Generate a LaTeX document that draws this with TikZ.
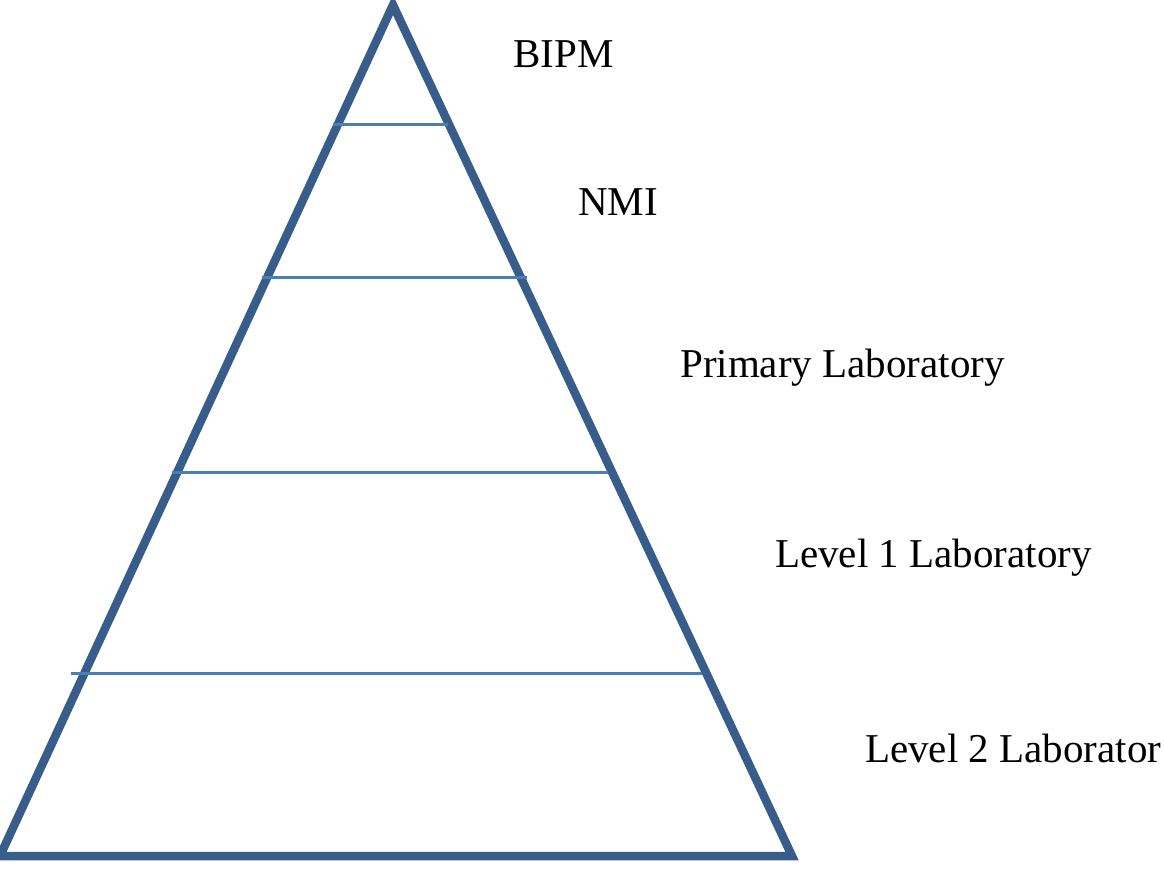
\documentclass[tikz,border=0pt]{standalone}
\usepackage{fontspec}
\setmainfont{Liberation Serif}
\definecolor{edgeblue}{HTML}{385D8A}
\definecolor{tierblue}{HTML}{4A7EBB}
\begin{document}
\begin{tikzpicture}[x=1pt, y=-1pt]
					\useasboundingbox (0,0) rectangle (1164,872);
					\clip (0,0) rectangle (1164,872);
					\coordinate (top) at (393,5);
					\coordinate (bl) at (0,856);
					\coordinate (br) at (792,856);
					
					\draw[edgeblue, line width=8.5pt, line join=miter] (top) -- (bl) -- (br) -- cycle;
					
					\draw[tierblue, line width=3pt] (333,125) -- (448,125);
					\draw[tierblue, line width=3pt] (262,277) -- (527,277);
					\draw[tierblue, line width=3pt] (172,472) -- (608,472);
					\draw[tierblue, line width=3pt] (71,673) -- (702,673);
					
					\node[anchor=base west, inner sep=0pt, font=\fontsize{41}{49}\selectfont] (bipm) at (513,68) {BIPM};
					\node[anchor=base west, inner sep=0pt, font=\fontsize{41}{49}\selectfont] (nmi) at (578,215) {NMI};
					\node[anchor=base west, inner sep=0pt, font=\fontsize{41}{49}\selectfont] (prim) at (680,377) {Primary Laboratory};
					\node[anchor=base west, inner sep=0pt, font=\fontsize{41}{49}\selectfont] (lev1) at (775,567) {Level 1 Laboratory};
					\node[anchor=base west, inner sep=0pt, font=\fontsize{41}{49}\selectfont] (lev2) at (865,762) {Level 2 Laborator};
					
					\end{tikzpicture}
\end{document}
